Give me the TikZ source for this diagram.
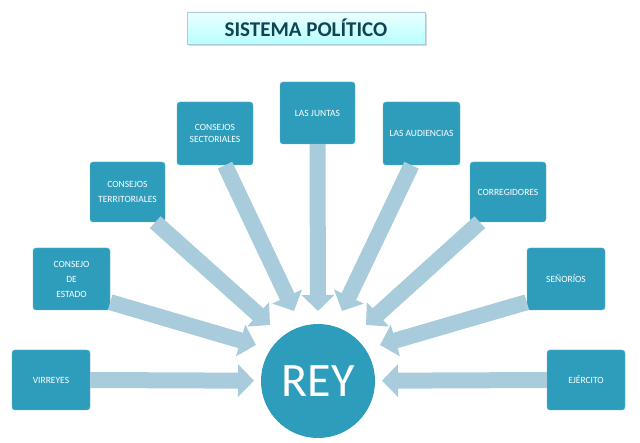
\documentclass[tikz,border=0pt]{standalone}
\usepackage{fontspec}
\setmainfont{Carlito}
\usetikzlibrary{arrows.meta,calc,shadows}
\definecolor{boxc}{HTML}{2E9DBC}
\definecolor{arrc}{HTML}{A9CCDD}
\definecolor{titc}{HTML}{0F4452}
\tikzset{
 bx/.style={draw=boxc!80!white,fill=boxc,rounded corners=3pt,text=white,align=center,font=\fontsize{9.5}{12}\selectfont,inner sep=1pt},
 arr/.style={draw=arrc,line width=16pt,-{Triangle[width=32pt,length=16pt]}}
}
\begin{document}
\begin{tikzpicture}[x=1pt,y=-1pt]
\useasboundingbox (0,0) rectangle (640,443);
\node[draw=arrc,top color=cyan!8,bottom color=cyan!28,minimum width=238pt,minimum height=32pt,font=\bfseries\fontsize{21}{24}\selectfont,text=titc,drop shadow={opacity=0.3}] (title) at (306,28) {SISTEMA POLÍTICO};
\node[circle,fill=boxc,minimum size=114pt,text=white,font=\fontsize{48}{52}\selectfont] (rey) at (318,381) {REY};
\node[bx,minimum width=78pt,minimum height=60pt] (b1) at (51,380) {VIRREYES};
\node[bx,minimum width=77pt,minimum height=62pt] (b2) at (71.5,279) {CONSEJO\\[3pt]DE\\[3pt]ESTADO};
\node[bx,minimum width=75pt,minimum height=60pt] (b3) at (127.5,192) {CONSEJOS\\[3pt]TERRITORIALES};
\node[bx,minimum width=76pt,minimum height=63pt] (b4) at (215,133.5) {CONSEJOS\\SECTORIALES};
\node[bx,minimum width=75pt,minimum height=62pt] (b5) at (317.5,113) {LAS JUNTAS};
\node[bx,minimum width=77pt,minimum height=63pt] (b6) at (421.5,133.5) {LAS AUDIENCIAS};
\node[bx,minimum width=76pt,minimum height=60pt] (b7) at (508,192) {CORREGIDORES};
\node[bx,minimum width=78pt,minimum height=62pt] (b8) at (566,279) {SEÑORÍOS};
\node[bx,minimum width=78pt,minimum height=60pt] (b9) at (586,380) {EJÉRCITO};
\draw[arr] (b1.east) -- ($(rey.center)!64pt!(b1.east)$);
\draw[arr] (b2.south east) ++(0,-8) coordinate (s2) -- ($(rey.center)+(-62,-36)$);
\draw[arr] ($(b3.south east)+(-10,0)$) -- ($(rey.center)+(-48,-56)$);
\draw[arr] ($(b4.south)+(10,0)$) -- ($(rey.center)+(-24,-70)$);
\draw[arr] (b5.south) -- ($(rey.center)+(0,-70)$);
\draw[arr] ($(b6.south)+(-10,0)$) -- ($(rey.center)+(24,-70)$);
\draw[arr] ($(b7.south west)+(10,0)$) -- ($(rey.center)+(48,-56)$);
\draw[arr] (b8.south west) ++(0,-8) coordinate (s8) -- ($(rey.center)+(62,-36)$);
\draw[arr] (b9.west) -- ($(rey.center)!64pt!(b9.west)$);
\end{tikzpicture}
\end{document}
